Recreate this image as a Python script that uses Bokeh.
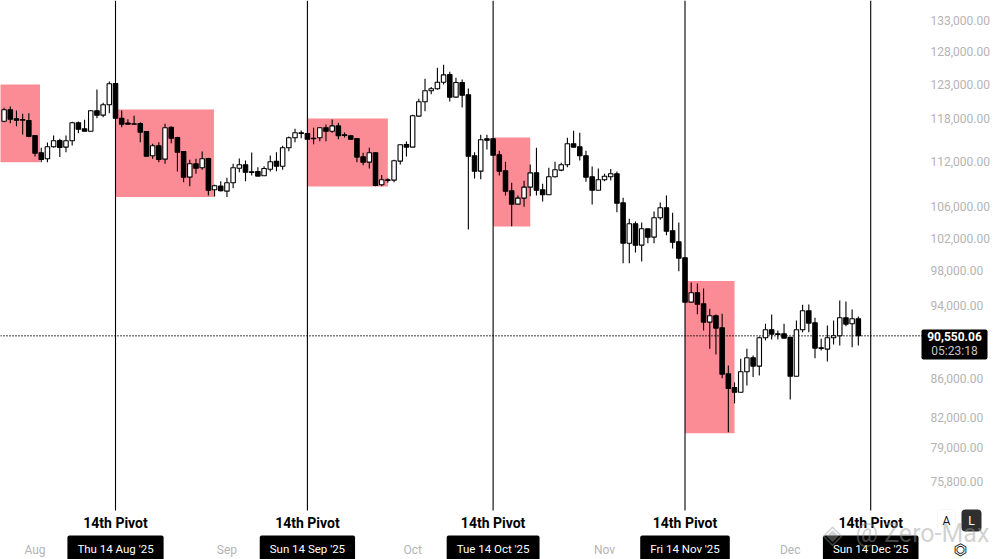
from bokeh.plotting import figure
from bokeh.embed import file_html
from bokeh.resources import INLINE
from bokeh.models import Label, BoxAnnotation, FixedTicker, NumeralTickFormatter, ColumnDataSource, Range1d

first_day = -18
open_ = [117630,119280,117980,117880,117730,115600,113190,112360,114020,114900,113970,114860,117400,116550,116200,119130,118500,120010,
 123170,118060,117350,117260,117300,116170,112770,114160,112310,116740,115320,113370,109870,111680,111140,112400,108190,108670,108010,109120,
 111080,111540,110590,110640,110060,110940,112000,111350,113890,115270,115980,115880,115210,115270,116700,116200,116960,115700,115560,115180,
 112640,111900,113190,108860,109520,109470,112040,114340,113970,118360,120450,122080,122370,123360,124500,121130,123310,121480,112770,110680,
 115130,115130,112910,110720,108060,106310,107100,108540,110450,108190,107540,109930,110820,111540,114430,114020,112770,109930,108140,109520,
 109930,110320,106490,101370,103800,101130,103170,102120,104560,105840,102920,101550,99590,94340,95430,94150,92070,92790,91440,86450,85000,
 84530,86660,88160,87260,90330,91220,90770,90770,90370,86190,91220,93350,92000,89240,89090,90330,90550,92560,91890,92450]
close = [119280,117920,117780,117780,115460,113130,112270,114020,114860,113930,114860,117400,116490,116200,119130,118500,120010,123120,
 118060,117200,117200,117200,116060,112720,114160,112270,116700,115210,113270,109870,111680,111080,112360,108140,108720,108060,109120,111140,
 111540,110540,110500,110010,111040,111950,111350,113890,115270,115980,115880,115070,115130,116700,116200,116960,115560,115600,115070,112590,
 111900,113190,108770,109520,109430,112090,114300,113970,118420,120450,122080,122370,123360,124460,121130,123310,121420,112720,110680,114990,
 114940,112860,110680,108010,106310,107100,108540,110450,108140,107540,109930,110870,111540,114430,113970,112770,109870,108140,109520,110000,
 110320,106440,101370,103800,101130,103170,102120,104560,105840,102870,101500,99540,94340,95430,94110,92070,92790,91400,86410,84920,84530,
 86660,88160,87260,90330,91220,90730,90700,90290,86190,91220,93350,91960,89200,89170,90330,90550,92560,91850,92450,90550]
high = [119570,119760,119180,118700,118790,115600,113890,114620,115600,115130,115600,117540,117580,117830,119180,122270,120300,123460,
 123170,119180,117920,118400,117490,116170,114430,114660,117260,116880,115420,113370,112220,112360,113370,112500,108860,109340,109780,111680,
 112400,112130,113230,111210,111350,112820,113270,114160,115460,116550,116300,116000,116700,116780,117160,117880,117400,116020,115640,115180,
 113190,113890,113270,110160,109730,112220,114300,114760,118560,120890,123880,122620,125540,126000,124950,124030,123770,122420,113270,115700,
 115700,115130,113460,111950,109120,107440,109390,111590,113890,108990,111140,111950,111810,115270,116260,115980,113460,111310,111020,110320,
 110980,110640,107130,104430,104090,103960,103170,105370,106530,107440,105220,103960,99590,96630,96510,95930,93580,92940,93010,87330,85540,
 88050,89130,88410,90480,91890,92940,91140,91890,90370,92260,94040,94070,92560,90220,91700,92260,94530,94420,93500,92700]
low = [117490,117350,116920,115740,115360,112680,111900,111900,113890,112590,113270,114200,115920,116200,116200,118060,118200,118790,
 118060,116780,117200,117200,114660,112720,112360,111900,111670,114520,110640,109200,108670,110320,110870,107440,107320,107970,107230,108410,
 110540,109340,110100,110010,110010,110640,110680,110870,113400,114660,115210,115070,114380,114800,114800,115980,115070,115320,114990,111900,
 111490,111020,108670,108670,109120,109200,111590,112680,113970,118360,119080,121570,122220,123020,120490,121130,119610,103090,109700,109600,
 113640,112860,110100,107440,103500,106310,105980,107350,107440,106660,107540,109840,110680,111220,113930,112130,109270,106270,108140,109340,
 109430,105280,98930,98930,100230,99140,101370,101370,104300,102370,100720,97970,94340,94340,92970,91140,89130,88510,85990,80510,83380,
 84530,85230,86100,86270,90040,90140,90140,90290,83790,86190,90950,90950,88110,88940,87760,89600,89490,91620,89300,89490]

pivot_days = [0, 31, 61, 92, 122]
pivot_dates = ["Thu 14 Aug '25", "Sun 14 Sep '25", "Tue 14 Oct '25", "Fri 14 Nov '25", "Sun 14 Dec '25"]
pivot_label = "14th Pivot"
month_days = [-13, 18, 48, 79, 109]
month_names = ["Aug", "Sep", "Oct", "Nov", "Dec"]
price_ticks = [133000,128000,123000,118000,112000,106000,102000,98000,94000,86000,82000,79000,75800]
last_price = 90550.06
countdown = "05:23:18"
box_start = [-31, 0, 31, 61, 92]
box_end = [-12.2, 15.9, 44, 67, 100]
box_high = [123010, 119320, 118020, 115320, 96790]
box_low = [111900, 107230, 108630, 103460, 80410]

days = [first_day + i for i in range(len(open_))]
up = [c > o for o, c in zip(open_, close)]
src = ColumnDataSource(dict(x=days, o=open_, c=close, h=high, l=low,
                            fill=["#ffffff" if u else "#000000" for u in up]))

W, H = 995, 559
X0, X1 = -18.58, 142.16
Y0, Y1 = 68930, 136280
axis_x = 129.4     # day at which the price scale stands
axis_y = 73170     # price at which the time scale stands
line_end = 131
GREY = "#b4b4b4"

p = figure(width=W, height=H, y_axis_type="log", y_axis_location="right", output_backend="svg",
           toolbar_location=None, x_range=Range1d(X0, X1), y_range=Range1d(Y0, Y1),
           min_border=0, background_fill_color="#ffffff", border_fill_color="#ffffff", outline_line_color=None)
p.grid.visible = False

ya = p.yaxis[0]
ya.fixed_location = axis_x
ya.ticker = FixedTicker(ticks=price_ticks)
ya.formatter = NumeralTickFormatter(format="0,0.00")
ya.axis_line_color = None
ya.major_tick_line_color = None
ya.minor_tick_line_color = None
ya.major_label_standoff = 8
ya.major_label_text_color = GREY
ya.major_label_text_font = "Roboto"
ya.major_label_text_font_size = "12px"

xa = p.xaxis[0]
xa.fixed_location = axis_y
xa.ticker = FixedTicker(ticks=month_days)
xa.major_label_overrides = {d: n for d, n in zip(month_days, month_names)}
xa.axis_line_color = None
xa.major_tick_line_color = None
xa.minor_tick_line_color = None
xa.major_label_standoff = 26
xa.major_label_text_color = GREY
xa.major_label_text_font = "Roboto"
xa.major_label_text_font_size = "12px"

p.quad(left=box_start, right=box_end, top=box_high, bottom=box_low, fill_color="#fb8c96", line_color=None)

p.segment(x0=pivot_days, x1=pivot_days, y0=[axis_y] * len(pivot_days), y1=[Y1] * len(pivot_days),
          line_color="#000000", line_width=1.1)
p.segment(x0=[X0], x1=[line_end], y0=[last_price], y1=[last_price], line_color="#000000", line_width=1.4, line_dash="1 2")

p.segment(x0="x", x1="x", y0="l", y1="h", source=src, line_color="#000000", line_width=1.1)
p.vbar(x="x", width=0.72, top="o", bottom="c", source=src, fill_color="fill", line_color="#000000", line_width=1.1)


def box(left, right, top, bottom, **kw):
    p.add_layout(BoxAnnotation(left=left, right=right, top=H - top, bottom=H - bottom, left_units="screen",
                               right_units="screen", top_units="screen", bottom_units="screen", fill_alpha=1,
                               level="annotation", **kw))


def label(x, y, text, font="Roboto", **kw):
    p.add_layout(Label(x=x, y=H - y, y_units="screen", text=text, text_baseline="middle",
                       text_font=font, level="overlay", **kw))


for d, t in zip(pivot_days, pivot_dates):
    label(d, 522, pivot_label, x_units="data", text_align="center", text_font_style="bold",
          text_font_size="14px", text_color="#000000")
    label(d, 548, t, x_units="data", text_align="center", text_font_size="11.5px", text_color="#ffffff",
          background_fill_color="#000000", padding=(10, 6), border_radius=2)

box(921, 987, 329, 359, fill_color="#000000", line_color=None, border_radius=2)
label(954, 336, f"{last_price:,.2f}", x_units="screen", text_align="center", text_font_style="bold",
      text_font_size="12px", text_color="#ffffff")
label(954, 350, countdown, x_units="screen", text_align="center", text_font_size="12px", text_color="#c4c4c4")

box(937, 955, 509, 531, fill_color="#ffffff", line_color="#e0e3eb", border_radius=4)
box(961, 981, 509, 531, fill_color="#2f2f2f", line_color=None, border_radius=4)
label(946, 520, "A", x_units="screen", text_align="center", text_font_size="12px", text_color="#131722")
label(971, 520, "L", x_units="screen", text_align="center", text_font_size="12px", text_color="#ffffff")
label(960, 549, "⏣", font="DejaVu Sans", x_units="screen", text_align="center", text_font_size="16px", text_color="#131722")

label(855, 533, "@ Zero-Max", x_units="screen", text_align="left", text_font_size="25px", text_color="#9a9a9a", text_alpha=0.45)
label(832, 533, "◈", font="DejaVu Sans", x_units="screen", text_align="center", text_font_size="26px", text_color="#9a9a9a", text_alpha=0.45)

open("out.html", "w").write(file_html(p, INLINE))
